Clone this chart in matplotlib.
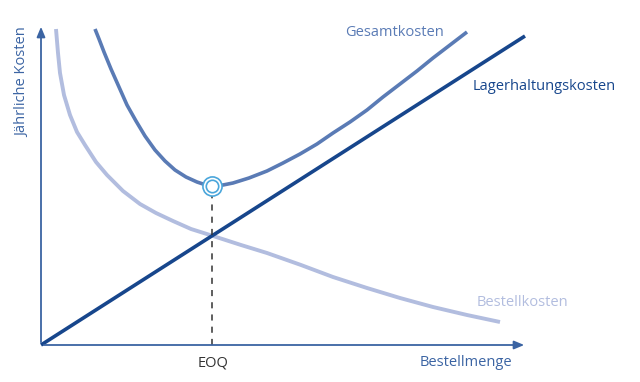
import matplotlib
matplotlib.use("Agg")
import matplotlib.pyplot as plt

# data (units: pixels from the origin of the axes)
lager_x = [0, 484]
lager_y = [0, 309]

bestell_x = [15, 17, 19, 23, 29, 36, 44, 55, 66, 82, 99, 115, 132, 150, 169,
             200, 226, 260, 292, 326, 359, 392, 426, 459]
bestell_y = [316, 292, 272, 250, 230, 213, 200, 183, 170, 154, 141, 132, 124, 116, 110,
             100, 92, 80, 68, 57, 47, 38, 30, 23]

gesamt_x = [54, 58, 63, 70, 78, 86, 95, 104, 114, 124, 134, 145, 156, 165, 171,
            182, 192, 208, 226, 242, 259, 276, 292, 309, 326, 342, 359, 376, 392, 409, 426]
gesamt_y = [316, 306, 293, 276, 258, 240, 224, 209, 195, 184, 175, 168, 163, 160, 159,
            160, 162, 167, 174, 182, 191, 201, 212, 223, 235, 248, 261, 274, 287, 300, 313]

eoq_x = 171
eoq_y = 159

c_axis = "#3b64a3"
c_lager = "#17468c"
c_ges = "#5a7bb5"
c_best = "#b2bddf"
c_ring = "#4aa6db"

plt.rcParams['font.family'] = ['Open Sans', 'DejaVu Sans']

fig = plt.figure(figsize=(6.4, 3.82), dpi=100)
ax = fig.add_axes([0, 0, 1, 1])
ax.set_xlim(-41, 599)
ax.set_ylim(-37, 345)
ax.axis("off")

# axes with arrows
arrow = dict(arrowstyle="-|>,head_length=0.6,head_width=0.25", color=c_axis, lw=1.3)
ax.annotate("", xy=(486, 0), xytext=(0, 0), arrowprops=arrow)
ax.annotate("", xy=(0, 321), xytext=(0, 0), arrowprops=arrow)

ax.plot(bestell_x, bestell_y, color=c_best, lw=2.8, solid_capstyle="butt", solid_joinstyle="round")
ax.plot(gesamt_x, gesamt_y, color=c_ges, lw=2.6, solid_capstyle="butt", solid_joinstyle="round")
ax.plot(lager_x, lager_y, color=c_lager, lw=2.6, solid_capstyle="butt")

# EOQ marker and drop line
ax.plot([eoq_x, eoq_x], [0, eoq_y - 8], color="#333333", lw=1.1, ls=(0, (4, 4)))
ax.scatter([eoq_x], [eoq_y], s=190, facecolor="white", edgecolor=c_ring, lw=1.2, zorder=5)
ax.scatter([eoq_x], [eoq_y], s=80, facecolor="white", edgecolor=c_ring, lw=1.2, zorder=6)

ax.text(353, 312, "Gesamtkosten", color=c_ges, fontsize=10.5, ha="center", va="center")
ax.text(432, 258, "Lagerhaltungskosten", color=c_lager, fontsize=10.5,
        ha="left", va="center", fontweight="medium")
ax.text(436, 42, "Bestellkosten", color=c_best, fontsize=10.5, ha="left", va="center")

ax.text(172, -18, "EOQ", color="#333333", fontsize=10.5, ha="center", va="center")
ax.text(471, -18, "Bestellmenge", color=c_axis, fontsize=10.5, ha="right", va="center")
ax.text(-18, 318, "Jährliche Kosten", color=c_axis, fontsize=10.5, rotation=90,
        ha="center", va="top")

fig.savefig("out.png", dpi=100)
